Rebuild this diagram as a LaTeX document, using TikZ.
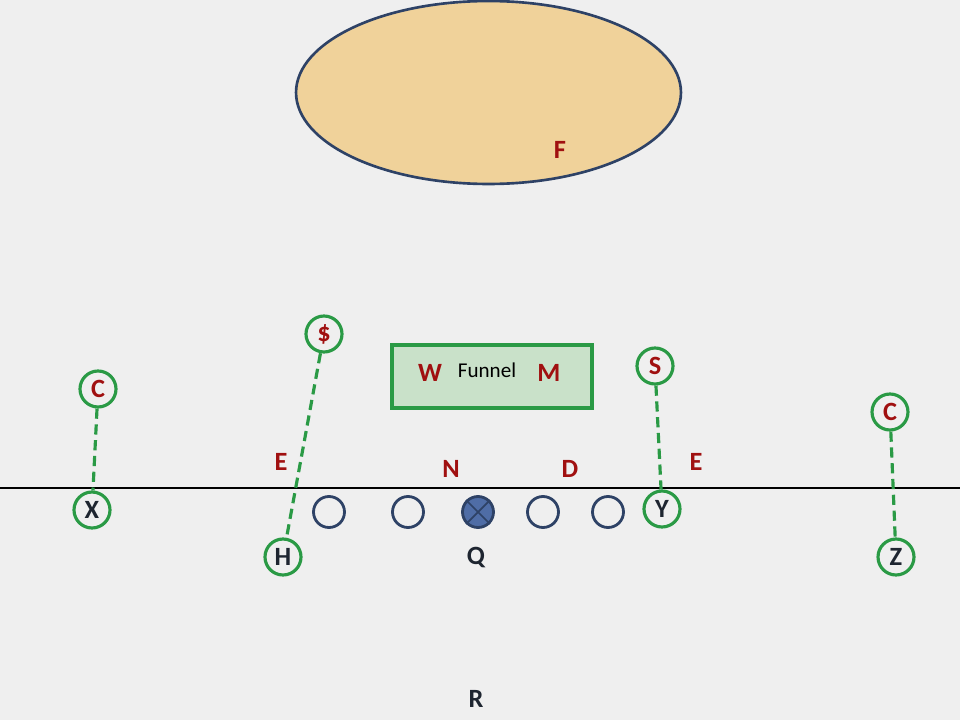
\documentclass[tikz,border=0pt]{standalone}
\usepackage{fontspec}
\setmainfont{Carlito}
\definecolor{bg}{HTML}{EFEFEF}
\definecolor{tan}{HTML}{F0D29A}
\definecolor{navy}{HTML}{2E4266}
\definecolor{grn}{HTML}{2A9A45}
\definecolor{boxfill}{HTML}{C9E1C9}
\definecolor{dred}{HTML}{A01010}
\definecolor{qfill}{HTML}{4F6DA6}
\definecolor{txt}{HTML}{1E2530}
\begin{document}
\begin{tikzpicture}[x=0.02cm,y=-0.02cm,
  player/.style={circle,draw=grn,line width=1.8pt,minimum size=0.72cm,inner sep=0pt,font=\fontsize{15}{17}\selectfont\bfseries},
  offp/.style={player,text=txt},
  defp/.style={player,text=dred},
  lineman/.style={circle,draw=navy,line width=1.6pt,minimum size=0.62cm,inner sep=0pt},
  dlab/.style={text=dred,font=\fontsize{15}{17}\selectfont\bfseries,inner sep=0pt},
  olab/.style={text=txt,font=\fontsize{15}{17}\selectfont\bfseries,inner sep=0pt},
  dashline/.style={draw=grn,line width=1.8pt,dash pattern=on 5.8pt off 3.2pt}]
\useasboundingbox[fill=bg] (0,0) rectangle (960,720);
% deep zone
\draw[navy,fill=tan,line width=1.5pt] (488.5,92.5) ellipse [x radius=3.85cm, y radius=1.83cm];
\node[dlab] (f) at (560,150) {F};
% line of scrimmage
\coordinate (losl) at (0,488);
\coordinate (losr) at (960,488);
\draw[black,line width=1.4pt] (losl) -- (losr);
% funnel box
\node[draw=grn,fill=boxfill,line width=1.8pt,minimum width=4cm,minimum height=1.26cm,inner sep=0pt] (funnel) at (492,376.5) {};
\node[dlab] (w) at (430,373) {W};
\node[text=black,font=\fontsize{12}{14}\selectfont,inner sep=0pt] (fl) at (487,370) {Funnel};
\node[dlab] (m) at (549,373) {M};
% offense
\node[offp] (x) at (92,510) {X};
\node[offp] (h) at (283,557) {H};
\node[lineman] (lt) at (329,512) {};
\node[lineman] (lg) at (408,512) {};
\node[lineman,fill=qfill] (c) at (478,512) {};
\draw[navy,line width=1pt] (c.north west) -- (c.south east) (c.north east) -- (c.south west);
\node[lineman] (rg) at (543,512) {};
\node[lineman] (rt) at (608,512) {};
\node[offp] (y) at (662,509) {Y};
\node[offp] (z) at (896,557) {Z};
\node[olab] (q) at (476,558) {Q};
\node[olab] (r) at (476,699) {R};
% defense
\node[defp] (cl) at (98,389) {C};
\node[defp] (dol) at (324,334) {\$};
\node[defp] (s) at (655,366) {S};
\node[defp] (cr) at (890,412) {C};
\node[dlab] (el) at (281,462) {E};
\node[dlab] (n) at (451,469) {N};
\node[dlab] (d) at (570,469) {D};
\node[dlab] (er) at (696,462) {E};
% assignments
\draw[dashline] (cl) -- (x);
\draw[dashline] (dol) -- (h);
\draw[dashline] (s) -- (y);
\draw[dashline] (cr) -- (z);
\end{tikzpicture}
\end{document}
